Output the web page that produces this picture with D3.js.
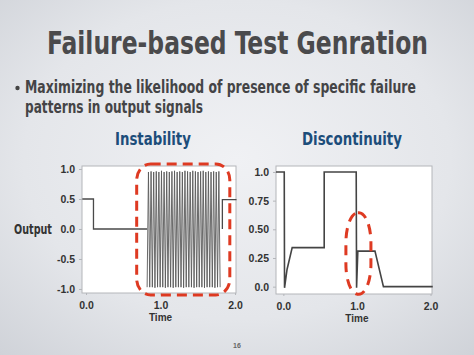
<!DOCTYPE html>
<html><head><meta charset="utf-8">
<script src="https://cdn.jsdelivr.net/npm/d3@7"></script>
<style>html,body{margin:0;padding:0;overflow:hidden;background:#e6e8ec}</style>
</head><body>
<svg id="c" width="474" height="355"></svg>
<script>
// ---------- data ----------
const titleText = "Failure-based Test Genration";
const bulletLines = ["Maximizing the likelihood of presence of specific failure", "patterns in output signals"];
const chartTitles = ["Instability", "Discontinuity"];
const yLabel = "Output";
const xLabel = "Time";
const pageNumber = "16";

const xTicks = [0, 1, 2];
const xTickLabels = ["0.0", "1.0", "2.0"];
const leftYTicks = [1, 0.5, 0, -0.5, -1];
const leftYTickLabels = ["1.0", "0.5", "0.0", "-0.5", "-1.0"];
const rightYTicks = [1, 0.75, 0.5, 0.25, 0];
const rightYTickLabels = ["1.0", "0.75", "0.50", "0.25", "0.0"];

// Instability signal: steps then oscillation
const instStepTimes = [-0.05, 0.10, 0.10, 0.82];
const instStepValues = [0.5, 0.5, 0.0, 0.0];
const oscTimes = [0.820,0.838,0.855,0.873,0.890,0.908,0.925,0.943,0.960,0.978,0.995,1.013,1.030,1.048,1.065,1.083,1.100,1.118,1.135,1.153,1.170,1.188,1.205,1.223,1.240,1.258,1.275,1.293,1.310,1.328,1.345,1.363,1.380,1.398,1.415,1.433,1.450,1.468,1.485,1.503,1.520,1.538,1.555,1.573,1.590,1.608,1.625,1.643,1.660,1.678,1.695,1.713,1.730,1.748,1.765,1.783,1.800];
const oscValues = [-0.97,0.95,-0.97,0.96,-0.97,0.95,-0.98,0.96,-0.97,0.95,-0.97,0.97,-0.97,0.95,-0.98,0.96,-0.97,0.95,-0.97,0.96,-0.98,0.97,-0.97,0.95,-0.97,0.96,-0.97,0.95,-0.98,0.97,-0.97,0.96,-0.97,0.95,-0.97,0.97,-0.98,0.96,-0.97,0.95,-0.97,0.96,-0.97,0.97,-0.98,0.95,-0.97,0.96,-0.97,0.95,-0.97,0.96,-0.98,0.95,-0.97,0.96,-0.97];
const instTailTimes = [1.83, 1.83, 2.02];
const instTailValues = [0.0, 0.49, 0.49];

// Discontinuity signal
const discTimes = [-0.1, 0.012, 0.016, 0.05, 0.12, 0.555, 0.555, 0.99, 0.995, 1.012, 1.245, 1.36, 2.03];
const discValues = [1.0, 1.0, -0.01, 0.15, 0.34, 0.34, 1.0, 1.0, -0.01, 0.31, 0.31, 0.0, 0.0];

// Annotation regions (data units)
const instBox = {t0: 0.68, t1: 1.93, v0: -1.1, v1: 1.085};
const discBox = {t0: 0.85, t1: 1.19, v0: -0.066, v1: 0.645};

// ---------- drawing ----------
const svg = d3.select("#c");
const defs = svg.append("defs");
const rg = defs.append("radialGradient").attr("id","bg").attr("cx","50%").attr("cy","45%").attr("r","75%");
rg.append("stop").attr("offset","0%").attr("stop-color","#f0f1f4");
rg.append("stop").attr("offset","60%").attr("stop-color","#e4e6ea");
rg.append("stop").attr("offset","100%").attr("stop-color","#cfd2d8");
svg.append("rect").attr("width",474).attr("height",355).attr("fill","url(#bg)");

const condFont = "'Liberation Sans Narrow','DejaVu Sans Condensed','Roboto Condensed',Arial,sans-serif";
const normFont = "'Liberation Sans',Arial,Helvetica,sans-serif";

// fitted condensed text: scale horizontally to the target width
function fitText(str, x, y, size, width, color){
  const t = svg.append("text").text(str).attr("x",0).attr("y",0)
    .attr("font-family",condFont).attr("font-weight","bold").attr("font-size",size)
    .attr("fill",color);
  const w = t.node().getComputedTextLength();
  t.attr("transform",`translate(${x},${y}) scale(${width/w},1)`);
  return t;
}

fitText(titleText, 47, 54, 32, 381, "#4a4a4c");

svg.append("circle").attr("cx",17.5).attr("cy",88).attr("r",2.2).attr("fill","#444");
const bulletX = [25, 25], bulletY = [93, 113], bulletW = [391, 178];
bulletLines.forEach((t,i)=> fitText(t, bulletX[i], bulletY[i], 17.5, bulletW[i], "#444446"));

const chartTitleX = [115, 302], chartTitleW = [76, 100];
chartTitles.forEach((t,i)=> fitText(t, chartTitleX[i], 145, 17.5, chartTitleW[i], "#1c4d7a"));

fitText(yLabel, 14, 234, 13.5, 38, "#333");

svg.append("text").text(pageNumber).attr("x",237).attr("y",348).attr("text-anchor","middle")
  .attr("font-family",normFont).attr("font-weight","bold").attr("font-size",7).attr("fill","#666");

function panel(cfg){
  const g = svg.append("g");
  const x = d3.scaleLinear().domain(cfg.xd).range([cfg.left, cfg.right]);
  const y = d3.scaleLinear().domain(cfg.yd).range([cfg.bottom, cfg.top]);
  g.append("rect").attr("x",cfg.left).attr("y",cfg.top)
    .attr("width",cfg.right-cfg.left).attr("height",cfg.bottom-cfg.top)
    .attr("fill","#ffffff").attr("stroke","#b4b6ba").attr("stroke-width",1);
  const ya = g.append("g").attr("transform",`translate(${cfg.left},0)`)
    .call(d3.axisLeft(y).tickValues(cfg.yt).tickSize(3).tickPadding(4)
      .tickFormat((d,i)=>cfg.ytl[i]));
  const xa = g.append("g").attr("transform",`translate(0,${cfg.bottom})`)
    .call(d3.axisBottom(x).tickValues(xTicks).tickSize(2).tickPadding(7)
      .tickFormat((d,i)=>xTickLabels[i]));
  [ya, xa].forEach(a=>{
    a.select(".domain").remove();
    a.selectAll("line").attr("stroke","#b4b6ba");
    a.selectAll("text").attr("font-family",normFont).attr("font-weight","bold")
      .attr("font-size",10.5).attr("fill","#333");
  });
  g.append("text").text(xLabel).attr("x",x(1)).attr("y",cfg.bottom+28)
    .attr("text-anchor","middle").attr("font-family",normFont).attr("font-weight","bold")
    .attr("font-size",10).attr("fill","#333");
  const line = d3.line().x(d=>x(d[0])).y(d=>y(d[1]));
  cfg.series.forEach(s=>{
    g.append("path").attr("d",line(s.t.map((t,i)=>[t,s.v[i]])))
      .attr("fill","none").attr("stroke",s.color).attr("stroke-width",s.w)
      .attr("stroke-linejoin","miter");
  });
  const b = cfg.box;
  g.append("rect").attr("x",x(b.t0)).attr("y",y(b.v1))
    .attr("width",x(b.t1)-x(b.t0)).attr("height",y(b.v0)-y(b.v1))
    .attr("rx",cfg.rx).attr("ry",cfg.ry)
    .attr("fill","none").attr("stroke","#de3a22").attr("stroke-width",3)
    .attr("stroke-dasharray",cfg.dash);
}

panel({left:82, right:236, top:166, bottom:293, xd:[-0.054,2.013], yd:[-1.067,1.05],
  yt:leftYTicks, ytl:leftYTickLabels,
  series:[
    {t:instStepTimes, v:instStepValues, color:"#4a4a4a", w:1.3},
    {t:oscTimes, v:oscValues, color:"#5a5a5a", w:0.9},
    {t:instTailTimes, v:instTailValues, color:"#4a4a4a", w:1.3}
  ],
  box:instBox, rx:14, ry:16, dash:"10,6"});

panel({left:276, right:432, top:166, bottom:294, xd:[-0.1,2.02], yd:[-0.064,1.052],
  yt:rightYTicks, ytl:rightYTickLabels,
  series:[{t:discTimes, v:discValues, color:"#444", w:1.6}],
  box:discBox, rx:12, ry:30, dash:"10,7"});
</script>
</body></html>
